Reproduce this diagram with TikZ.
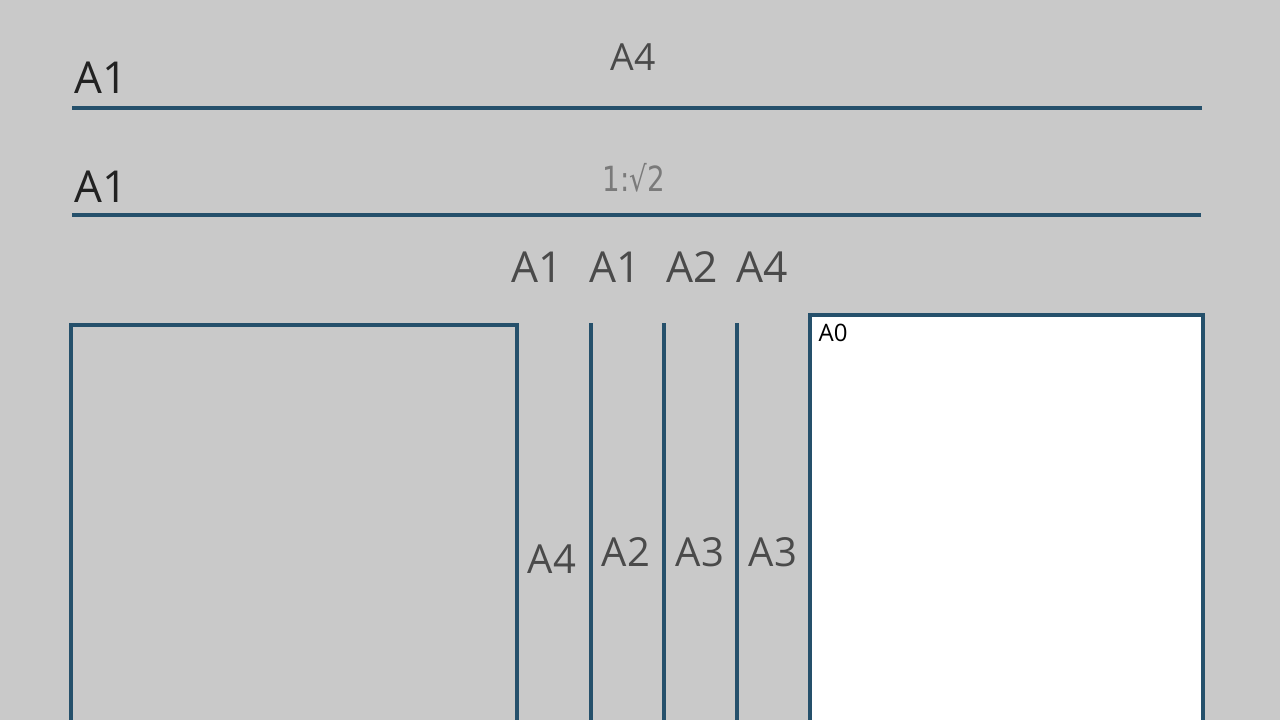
\documentclass[tikz,border=0pt]{standalone}
\usepackage{fontspec}
\setmainfont{Open Sans}
\newfontfamily\dejavu{DejaVu Sans}
\definecolor{bg}{HTML}{C9C9C9}
\definecolor{ln}{HTML}{25506B}
\definecolor{tx}{HTML}{222222}
\definecolor{txg}{HTML}{4A4A4A}
\definecolor{txl}{HTML}{7A7A7A}
\begin{document}
\begin{tikzpicture}[x=0.75pt,y=-0.75pt,
  rule/.style={draw=ln,line width=2.5pt},
  big/.style={inner sep=0pt,text=tx,font=\fontsize{33}{38}\selectfont},
  lab/.style={inner sep=0pt,text=txg,font=\fontsize{32}{38}\selectfont},
  labs/.style={inner sep=0pt,text=txg,font=\fontsize{30}{36}\selectfont}]
\fill[bg] (0,0) rectangle (1280,720);
\useasboundingbox (0,0) rectangle (1280,720);
% header rows
\node[big] (r1) at (101,78) {A1};
\node[inner sep=0pt,text=txg,font=\fontsize{28}{34}\selectfont] (t1) at (633,57) {A4};
\coordinate (l1a) at (72,108);
\coordinate (l1b) at (1202,108);
\draw[rule] (l1a) -- (l1b);
\node[big] (r2) at (101,187) {A1};
\node[inner sep=0pt,text=txl,xscale=0.8,font=\dejavu\fontsize{26}{32}\selectfont] (t2) at (634,178) {1:√2};
\coordinate (l2a) at (72,215);
\coordinate (l2b) at (1201,215);
\draw[rule] (l2a) -- (l2b);
% top labels
\node[lab] (h1) at (537,267) {A1};
\node[lab] (h2) at (615,267) {A1};
\node[lab] (h3) at (692,267) {A2};
\node[lab] (h4) at (762,267) {A4};
% left rectangle
\draw[rule] (71,740) -- (71,325) -- (517,325) -- (517,740);
% vertical lines
\coordinate (v1t) at (591,323); \coordinate (v1b) at (591,740);
\coordinate (v2t) at (664,323); \coordinate (v2b) at (664,740);
\coordinate (v3t) at (737,323); \coordinate (v3b) at (737,740);
\draw[rule] (v1t) -- (v1b);
\draw[rule] (v2t) -- (v2b);
\draw[rule] (v3t) -- (v3b);
% bottom labels
\node[labs] (b1) at (552,559) {A4};
\node[labs] (b2) at (626,552) {A2};
\node[labs] (b3) at (700,552) {A3};
\node[labs] (b4) at (773,552) {A3};
% right rectangle
\filldraw[rule,fill=white] (810,740) -- (810,315) -- (1203,315) -- (1203,740);
\node[inner sep=0pt,text=black,font=\fontsize{18}{22}\selectfont] (a0) at (833,333) {A0};
\end{tikzpicture}
\end{document}
